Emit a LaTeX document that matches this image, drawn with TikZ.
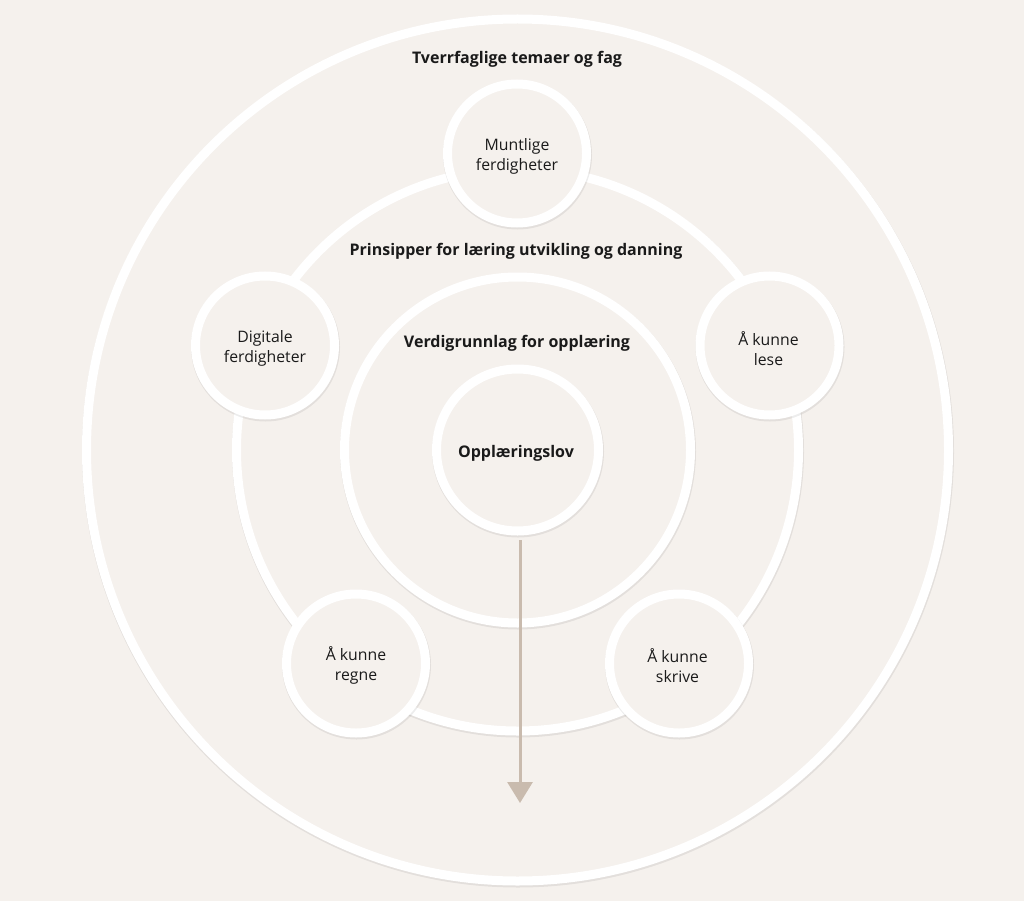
\documentclass[tikz,border=0pt]{standalone}
\usepackage{fontspec}
\setmainfont{Open Sans}
\usetikzlibrary{arrows.meta}
\definecolor{bg}{HTML}{F5F1ED}
\definecolor{arrowc}{HTML}{C9BBAE}
\definecolor{txt}{HTML}{1A1A1A}
\begin{document}
\begin{tikzpicture}[x=1pt,y=-1pt,
  ring/.style={circle, draw=white, line width=9pt, fill=bg, inner sep=0pt,
    preaction={draw=black, draw opacity=0.07, line width=10pt, transform canvas={yshift=-1.5pt, xshift=0.5pt}}},
  title/.style={font=\bfseries\fontsize{16}{19}\selectfont, text=txt, inner sep=0pt},
  lbl/.style={font=\fontsize{15.8}{20}\selectfont, text=txt, align=center, inner sep=0pt}]
\fill[bg] (0,0) rectangle (1024,901);
\useasboundingbox (0,0) rectangle (1024,901);

\node[ring, minimum size=862pt] (outer) at (517.5,450) {};
\node[ring, minimum size=562pt] (middle) at (517.5,450) {};
\node[ring, minimum size=346pt] (inner) at (517.5,450) {};
\node[ring, minimum size=162pt] (core) at (517.5,450) {};

\node[title] (t1) at (517,59) {Tverrfaglige temaer og fag};
\node[title] (t2) at (516,251.5) {Prinsipper for læring utvikling og danning};
\node[title] (t3) at (517,343.5) {Verdigrunnlag for opplæring};
\node[title] (t4) at (516,453) {Opplæringslov};

\node[ring, minimum size=139pt] (munt) at (517,153.5) {};
\node[ring, minimum size=139pt] (digi) at (265,345.5) {};
\node[ring, minimum size=139pt] (lese) at (769.5,345.5) {};
\node[ring, minimum size=139pt] (regne) at (356,663.5) {};
\node[ring, minimum size=139pt] (skrive) at (679,663.5) {};

\node[lbl] (muntT) at (517,156) {Muntlige\\ferdigheter};
\node[lbl] (digiT) at (265,348.5) {Digitale\\ferdigheter};
\node[lbl] (leseT) at (768.5,348.5) {Å kunne\\lese};
\node[lbl] (regneT) at (356,665.5) {Å kunne\\regne};
\node[lbl] (skriveT) at (677.5,665.5) {Å kunne\\skrive};

\coordinate (tip) at (520,803);
\draw[arrowc, line width=3pt, shorten <=4.5pt, -{Triangle[width=25pt,length=21pt]}]
  (core.south -| tip) -- (tip);
\end{tikzpicture}
\end{document}
